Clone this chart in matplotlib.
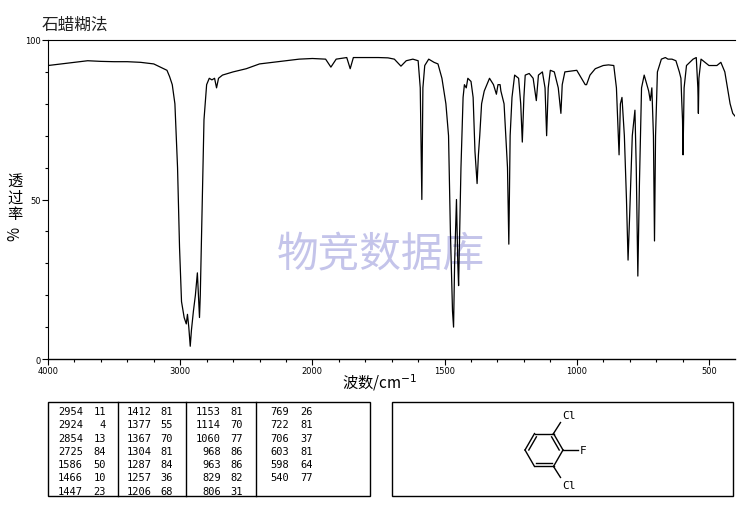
import numpy as np
import matplotlib.pyplot as plt
from matplotlib.ticker import FixedLocator

plt.rcParams['font.family'] = ['Noto Sans CJK SC', 'DejaVu Sans']

# spectrum (wavenumber, transmittance %)
spec_wn = [4000, 3900, 3800, 3700, 3600, 3500, 3400, 3300, 3200, 3150, 3100, 3080, 3060, 3040,
           3020, 3005, 2990, 2970, 2954, 2945, 2935, 2924, 2915, 2900, 2885, 2870, 2860, 2854,
           2848, 2835, 2820, 2800, 2780, 2760, 2740, 2725, 2710, 2680, 2600, 2500, 2400, 2300,
           2200, 2100, 2000, 1950, 1930, 1910, 1870, 1857, 1845, 1800, 1750, 1714, 1690, 1665,
           1645, 1620, 1600, 1592, 1586, 1582, 1575, 1560, 1540, 1525, 1510, 1495, 1485, 1478,
           1470, 1466, 1462, 1455, 1450, 1447, 1443, 1438, 1430, 1425, 1418, 1412, 1400, 1392,
           1385, 1377, 1372, 1367, 1360, 1350, 1330, 1315, 1304, 1298, 1290, 1287, 1275, 1262,
           1257, 1252, 1245, 1235, 1220, 1212, 1206, 1200, 1195, 1180, 1165, 1153, 1145, 1130,
           1120, 1114, 1108, 1100, 1085, 1070, 1060, 1055, 1045, 1000, 975, 968, 963, 950, 930,
           900, 880, 860, 850, 840, 835, 829, 820, 812, 806, 800, 790, 780, 775, 769, 763, 755,
           745, 735, 728, 722, 716, 710, 706, 702, 695, 680, 665, 655, 640, 625, 612, 606, 603,
           600, 598, 594, 585, 560, 548, 542, 540, 538, 530, 500, 470, 455, 440, 420, 410, 400]
spec_t = [92, 92.5, 93, 93.5, 93.3, 93.2, 93.2, 93, 92.5, 91.5, 90.5, 88.5, 86, 80,
          60, 35, 18, 13, 11, 14, 10, 4, 9, 15, 20, 27, 18, 13,
          20, 45, 75, 86, 88, 87.5, 88, 85, 88, 89, 90, 91, 92.5, 93,
          93.5, 94, 94.2, 94, 91.5, 94, 94.5, 91, 94.5, 94.5, 94.5, 94.4, 94, 91.8,
          93.5, 94, 93.5, 85, 50, 85, 92, 94, 93, 92.5, 88, 80, 70, 40,
          15, 10, 30, 50, 30, 23, 40, 60, 82, 86, 85, 88, 87, 82,
          65, 55, 64, 70, 80, 84, 88, 86, 83, 86, 86, 84, 80, 60,
          36, 70, 82, 89, 88, 80, 68, 82, 89, 89.5, 88, 81, 89, 90,
          85, 70, 85, 90.5, 90, 85, 77, 86, 90, 90.5, 87, 86, 86, 89, 91,
          92, 92.2, 92, 85, 64, 80, 82, 70, 50, 31, 45, 70, 78, 60, 26, 55, 85,
          89, 86, 84, 81, 85, 70, 37, 70, 90, 94, 94.5, 94, 94, 93.5, 90, 88, 81,
          75, 64, 85, 92, 94, 94.5, 85, 77, 88, 94, 92, 92, 93, 90, 80, 77, 76]

table_cols = [
    [("2954", "11"), ("2924", "4"), ("2854", "13"), ("2725", "84"), ("1586", "50"), ("1466", "10"), ("1447", "23")],
    [("1412", "81"), ("1377", "55"), ("1367", "70"), ("1304", "81"), ("1287", "84"), ("1257", "36"), ("1206", "68")],
    [("1153", "81"), ("1114", "70"), ("1060", "77"), ("968", "86"), ("963", "86"), ("829", "82"), ("806", "31")],
    [("769", "26"), ("722", "81"), ("706", "37"), ("603", "81"), ("598", "64"), ("540", "77")],
]
x_ticks = [4000, 3000, 2000, 1500, 1000, 500]


def u(wn):
    # x axis is compressed above 2000 cm-1 (half scale)
    wn = np.asarray(wn, dtype=float)
    return np.where(wn >= 2000, (4000 - wn) / 1000, 2 + (2000 - wn) / 500)


W, H = 738, 510
fig = plt.figure(figsize=(W / 100, H / 100), dpi=100)

ax = fig.add_axes([48 / W, 1 - 360 / H, (735 - 48) / W, (360 - 41) / H])
ax.patch.set_alpha(0)
ax.plot(u(spec_wn), spec_t, color='black', lw=0.9, zorder=3)
ax.set_xlim(0, 5.197)
ax.set_ylim(0, 100)
ax.spines['bottom'].set_visible(False)
ax.spines['right'].set_visible(False)
ax.plot([0, 1], [0, 0], transform=ax.transAxes, color='black', lw=1, clip_on=False)
ax.xaxis.set_major_locator(FixedLocator(u(x_ticks)))
ax.set_xticklabels([str(t) for t in x_ticks], fontsize=6, family='DejaVu Sans')
minor = list(range(4000, 2000, -200)) + list(range(2000, 399, -100))
ax.xaxis.set_minor_locator(FixedLocator(u(minor)))
ax.set_yticks([0, 50, 100])
ax.set_yticklabels(['0', '50', '100'], fontsize=6, family='DejaVu Sans')
ax.yaxis.set_minor_locator(FixedLocator(range(0, 101, 10)))
ax.tick_params(axis='both', which='major', length=4, width=0.8, pad=1)
ax.tick_params(axis='both', which='minor', length=2, width=0.8)

# pixel overlay for text, table and structure
ov = fig.add_axes([0, 0, 1, 1], zorder=-1)
ov.set_xlim(0, W)
ov.set_ylim(H, 0)
ov.axis('off')

ov.text(42, 25, "石蜡糊法", fontsize=12, va='center', ha='left', color='#222222')
ov.text(381, 255, "物竞数据库", fontsize=30, va='center', ha='center', color='#c4c4ea')
ov.text(380, 383, "波数/cm$^{-1}$", fontsize=11, va='center', ha='center')
for i, ch in enumerate("透过率"):
    ov.text(15, 181 + i * 17, ch, fontsize=11, va='center', ha='center')
ov.text(15, 234, "%", fontsize=11, va='center', ha='center', rotation=90)

# peak table
ov.add_patch(plt.Rectangle((48, 403), 322, 94, fill=False, lw=1, color='black'))
for xd in [118, 186, 256]:
    ov.plot([xd, xd], [403, 497], color='black', lw=1)
col_x = [(83, 106), (152, 173), (221, 243), (289, 313)]
for (xw, xi), col in zip(col_x, table_cols):
    for r, (wn, t) in enumerate(col):
        y = 412 + r * 13.3
        ov.text(xw, y, wn, fontsize=7.5, family='DejaVu Sans Mono', ha='right', va='center')
        ov.text(xi, y, t, fontsize=7.5, family='DejaVu Sans Mono', ha='right', va='center')

# structure box: 2,6-dichlorofluorobenzene
ov.add_patch(plt.Rectangle((392, 403), 341, 94, fill=False, lw=1, color='black'))
cx, cy, r = 544, 451, 19
ang = np.radians([0, 60, 120, 180, 240, 300])
vx = cx + r * np.cos(ang)
vy = cy - r * np.sin(ang)
for i in range(6):
    ov.plot([vx[i], vx[(i + 1) % 6]], [vy[i], vy[(i + 1) % 6]], color='black', lw=1)
for i in [0, 2, 4]:
    j = (i + 1) % 6
    sx = [cx + 0.8 * (vx[i] - cx), cx + 0.8 * (vx[j] - cx)]
    sy = [cy + 0.8 * (vy[i] - cy), cy + 0.8 * (vy[j] - cy)]
    ov.plot(sx, sy, color='black', lw=1)
ov.plot([vx[0], vx[0] + 15], [vy[0], vy[0]], color='black', lw=1)
ov.plot([vx[1], vx[1] + 7], [vy[1], vy[1] - 11], color='black', lw=1)
ov.plot([vx[5], vx[5] + 7], [vy[5], vy[5] + 11], color='black', lw=1)
ov.text(vx[1] + 9, vy[1] - 19, "Cl", fontsize=8, family='DejaVu Sans Mono', ha='left', va='center')
ov.text(vx[0] + 17, vy[0], "F", fontsize=8, family='DejaVu Sans Mono', ha='left', va='center')
ov.text(vx[5] + 9, vy[5] + 19, "Cl", fontsize=8, family='DejaVu Sans Mono', ha='left', va='center')

fig.savefig('out.png', dpi=100)
